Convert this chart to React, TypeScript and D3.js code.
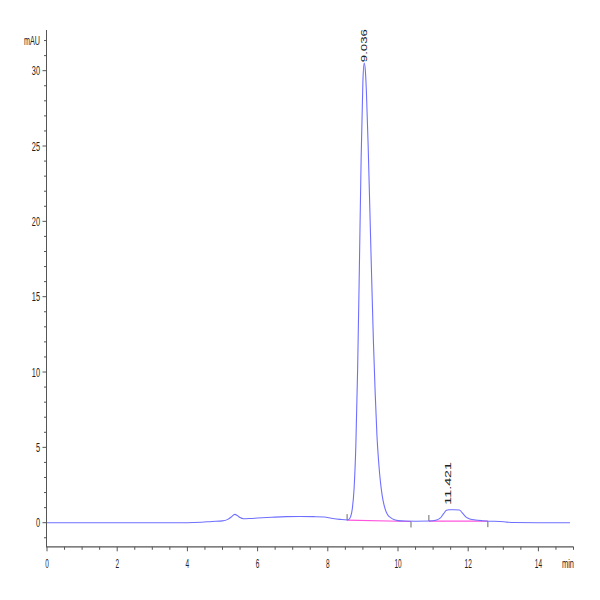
import React from "react";
import * as d3 from "d3";

const times = [0, 1, 2, 3, 4, 4.4, 4.7, 5.0, 5.15, 5.25, 5.35, 5.42, 5.5, 5.6, 5.8, 6.0, 6.4, 6.8, 7.2, 7.6, 7.9, 8.1, 8.35, 8.55, 8.6, 8.65, 8.7, 8.75, 8.8, 8.85, 8.9, 8.95, 9.0, 9.036, 9.07, 9.1, 9.15, 9.2, 9.25, 9.3, 9.35, 9.4, 9.45, 9.5, 9.55, 9.6, 9.65, 9.7, 9.8, 9.9, 10.0, 10.2, 10.5, 10.9, 11.1, 11.2, 11.3, 11.38, 11.45, 11.6, 11.75, 11.85, 11.95, 12.05, 12.2, 12.4, 12.6, 12.9, 13.1, 13.3, 14, 14.9];
const signal = [0, 0, 0, 0, 0, 0.03, 0.08, 0.12, 0.22, 0.38, 0.55, 0.48, 0.34, 0.26, 0.28, 0.31, 0.36, 0.4, 0.41, 0.4, 0.38, 0.3, 0.22, 0.18, 0.22, 0.4, 0.95, 2.3, 5.2, 10.2, 17, 24.2, 29.3, 30.5, 30.0, 28.6, 25.0, 20.6, 16.2, 12.0, 8.6, 5.8, 4.0, 2.7, 1.8, 1.2, 0.8, 0.55, 0.32, 0.2, 0.14, 0.11, 0.1, 0.11, 0.18, 0.3, 0.6, 0.82, 0.86, 0.86, 0.84, 0.6, 0.35, 0.25, 0.18, 0.13, 0.1, 0.08, 0.04, 0.01, 0, 0];

const peakTimes = [9.036, 11.421];
const peakLabels = ["9.036", "11.421"];
const peakHeights = [30.5, 0.86];

const baseStartT = [8.55, 10.88];
const baseStartV = [0.17, 0.11];
const baseEndT = [10.37, 12.56];
const baseEndV = [0.08, 0.1];

const xMajor = [0, 2, 4, 6, 8, 10, 12, 14];
const yMajor = [0, 5, 10, 15, 20, 25, 30];

const W = 600;
const H = 600;

export default function App() {
  const x = d3.scaleLinear().domain([0, 15]).range([47, 573.5]);
  const y = d3.scaleLinear().domain([-1.6, 32.7]).range([546.8, 30]);

  const pts: [number, number][] = times.map((t, i) => [t, signal[i]]);
  const line = d3
    .line<[number, number]>()
    .x((d) => x(d[0]))
    .y((d) => y(d[1]))
    .curve(d3.curveMonotoneX);

  const xMinor = d3.range(0, 15.01, 0.5);
  const yMinor = d3.range(-1, 32.01, 1);

  const axisColor = "#555";
  const textColor = "#222";
  const font = "'Liberation Sans Narrow', 'Liberation Sans', Arial, sans-serif";
  const x0 = x(0);
  const yAxisY = y(-1.6);

  return (
    <svg width={W} height={H} style={{ position: "absolute", left: 0, top: 0, background: "#fff" }}>
      <rect width={W} height={H} fill="#fff" />
      {/* y axis */}
      <line x1={x0 - 0.5} x2={x0 - 0.5} y1={y(32.7)} y2={yAxisY} stroke={axisColor} strokeWidth={1} />
      {yMinor.map((v) => (
        <line key={"ym" + v} x1={x0 - 0.5} x2={x0 - (v % 5 === 0 ? 4.5 : 3)} y1={y(v)} y2={y(v)} stroke={axisColor} strokeWidth={1} />
      ))}
      {yMajor.map((v) => (
        <text key={"yl" + v} x={40} y={y(v) + 4.5} textAnchor="end" fontFamily={font} fontSize={13} fill={textColor}
          textLength={String(v).length * 4.1} lengthAdjust="spacingAndGlyphs">
          {v}
        </text>
      ))}
      <text x={40} y={y(32) + 4.5} textAnchor="end" fontFamily={font} fontSize={12} fill={textColor}
        textLength={16} lengthAdjust="spacingAndGlyphs">
        mAU
      </text>
      {/* x axis */}
      <line x1={x0 - 1} x2={x(15)} y1={yAxisY} y2={yAxisY} stroke={axisColor} strokeWidth={1.2} />
      {xMinor.map((v) => (
        <line key={"xm" + v} x1={x(v)} x2={x(v)} y1={yAxisY} y2={yAxisY + (v % 2 === 0 ? 4.5 : 3)} stroke={axisColor} strokeWidth={1} />
      ))}
      {xMajor.map((v) => (
        <text key={"xl" + v} x={x(v)} y={568} textAnchor="middle" fontFamily={font} fontSize={13} fill={textColor}
          textLength={String(v).length * 3.6} lengthAdjust="spacingAndGlyphs">
          {v}
        </text>
      ))}
      <text x={574} y={568} textAnchor="end" fontFamily={font} fontSize={12} fill={textColor}
        textLength={12} lengthAdjust="spacingAndGlyphs">
        min
      </text>

      {/* baselines */}
      {baseStartT.map((t, i) => (
        <line key={"bl" + i} x1={x(t)} y1={y(baseStartV[i])} x2={x(baseEndT[i])} y2={y(baseEndV[i])} stroke="#ff55dd" strokeWidth={1.2} />
      ))}
      {baseStartT.map((t, i) => (
        <line key={"bs" + i} x1={x(t)} x2={x(t)} y1={y(baseStartV[i]) - 6} y2={y(baseStartV[i])} stroke="#444" strokeWidth={0.8} />
      ))}
      {baseEndT.map((t, i) => (
        <line key={"be" + i} x1={x(t)} x2={x(t)} y1={y(baseEndV[i])} y2={y(baseEndV[i]) + 6} stroke="#444" strokeWidth={0.8} />
      ))}

      {/* signal */}
      <path d={line(pts) || ""} fill="none" stroke="#6f6fff" strokeWidth={1.1} />

      {/* peak labels */}
      {peakTimes.map((t, i) => {
        const px = x(t) + 3;
        const py = y(peakHeights[i]) - (i === 0 ? 1 : 5);
        return (
          <text key={"pl" + i} transform={`translate(${px},${py}) rotate(-90)`} fontFamily="'Liberation Sans', Arial, sans-serif"
            fontSize={9} fill={textColor} textLength={peakLabels[i].length * 6.8 + (i === 0 ? -1 : 2)} lengthAdjust="spacingAndGlyphs">
            {peakLabels[i]}
          </text>
        );
      })}
    </svg>
  );
}
